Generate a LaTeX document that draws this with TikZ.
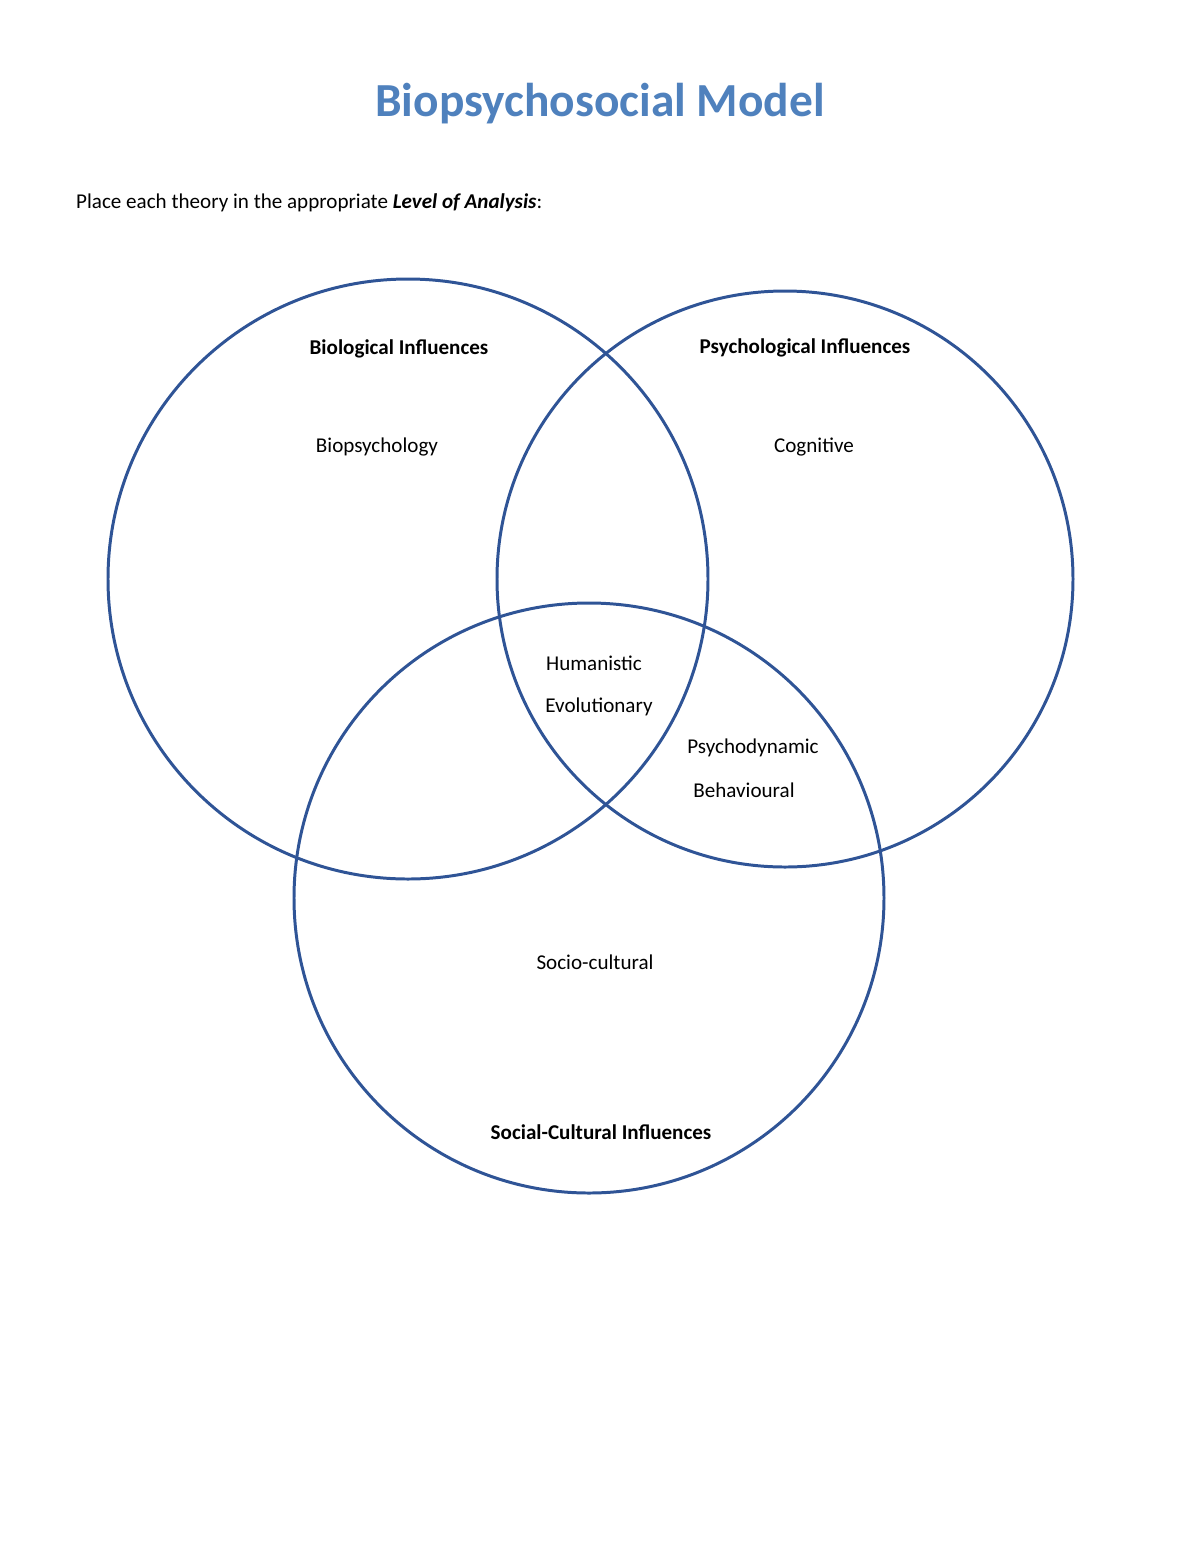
\documentclass[tikz,border=0pt]{standalone}
\usepackage{fontspec}
\setmainfont{Carlito}
\usetikzlibrary{positioning}
\definecolor{ringblue}{RGB}{47,84,150}
\definecolor{titleblue}{RGB}{79,129,189}
\begin{document}
\begin{tikzpicture}[x=0.02cm,y=-0.02cm]
    % --- Styles ---
    \tikzstyle{ring}=[line width=1.7pt, color=ringblue]
    \tikzstyle{heading}=[font=\fontsize{12}{14}\selectfont\bfseries]
    \tikzstyle{theory}=[font=\fontsize{12}{14}\selectfont]

    \useasboundingbox (0,0) rectangle (1200,1553);

    % --- Title ---
    \node[font=\fontsize{27}{30}\selectfont\bfseries, color=titleblue] (title) at (600,104) {Biopsychosocial Model};
    \node[theory, anchor=west] (prompt) at (70,203) {Place each theory in the appropriate \textbf{\textit{Level of Analysis}}:};

    % --- Circles ---
    \draw[ring] (408,579) circle (300);
    \draw[ring] (785,579) circle (288);
    \draw[ring] (589,898) circle (295);

    % --- Headings ---
    \node[heading] (bio) at (399,349) {Biological Influences};
    \node[heading] (psy) at (805,348) {Psychological Influences};
    \node[heading] (soc) at (601,1132) {Social-Cultural Influences};

    % --- Theories ---
    \node[theory] (biopsy) at (377,447) {Biopsychology};
    \node[theory] (cog) at (814,447) {Cognitive};
    \node[theory] (hum) at (594,663) {Humanistic};
    \node[theory] (evo) at (599,707) {Evolutionary};
    \node[theory] (psydyn) at (753,748) {Psychodynamic};
    \node[theory] (beh) at (744,790) {Behavioural};
    \node[theory] (socio) at (595,962) {Socio-cultural};
\end{tikzpicture}
\end{document}
